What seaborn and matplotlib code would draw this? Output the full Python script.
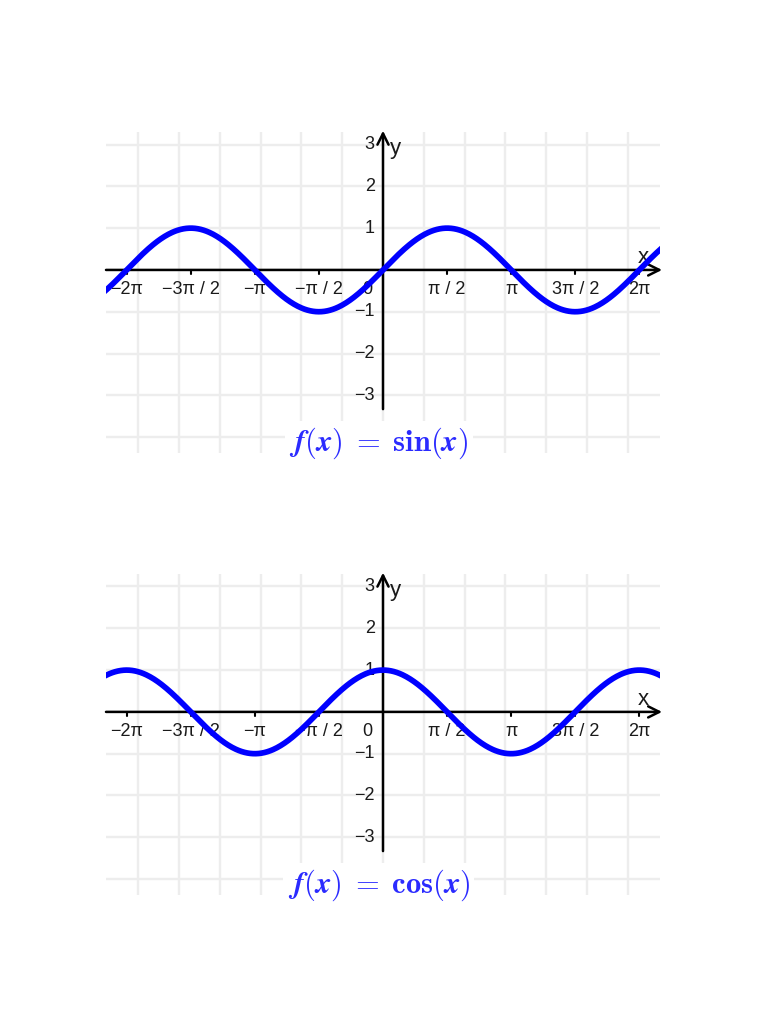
import matplotlib
matplotlib.use('Agg')

import matplotlib.pyplot as plt
import numpy as np
import pandas as pd
import seaborn as sns
from matplotlib.ticker import MultipleLocator, NullLocator

# ticks (multiples of pi/2) and their labels
x_tick_vals = [-2 * np.pi, -1.5 * np.pi, -np.pi, -0.5 * np.pi,
               0.5 * np.pi, np.pi, 1.5 * np.pi, 2 * np.pi]
x_tick_labels = ['\u22122\u03c0', '\u22123\u03c0 / 2', '\u2212\u03c0', '\u2212\u03c0 / 2',
                 '\u03c0 / 2', '\u03c0', '3\u03c0 / 2', '2\u03c0']
y_tick_vals = [-3, -2, -1, 1, 2, 3]
y_tick_labels = ['\u22123', '\u22122', '\u22121', '1', '2', '3']

# the two functions shown
panels = [
    ('sin', np.sin),
    ('cos', np.cos),
]

XMIN, XMAX = -6.79, 6.79
YMIN, YMAX = -4.38, 3.30
Y_AXIS_LOW = -3.33

sns.set_style('white')
plt.rcParams['font.family'] = ['Liberation Sans', 'DejaVu Sans']
plt.rcParams['mathtext.fontset'] = 'cm'

fig = plt.figure(figsize=(7.68, 10.24), dpi=100)
boxes = [[0.138, 0.5576, 0.7214, 0.3135], [0.138, 0.126, 0.7214, 0.3135]]

for (name, func), box in zip(panels, boxes):
    ax = fig.add_axes(box)
    xs = np.linspace(XMIN - 0.2, XMAX + 0.2, 600)
    df = pd.DataFrame({'x': xs, 'y': func(xs)})
    sns.lineplot(data=df, x='x', y='y', ax=ax, color='#0000ff', lw=4.1,
                 zorder=4, solid_capstyle='butt')

    ax.set_xlim(XMIN, XMAX)
    ax.set_ylim(YMIN, YMAX)
    ax.set_xlabel('')
    ax.set_ylabel('')

    # light grid at every integer
    ax.xaxis.set_major_locator(NullLocator())
    ax.yaxis.set_major_locator(NullLocator())
    ax.xaxis.set_minor_locator(MultipleLocator(1))
    ax.yaxis.set_minor_locator(MultipleLocator(1))
    ax.grid(which='minor', color='#ededed', lw=1.7, zorder=0)
    ax.tick_params(which='both', length=0)

    for s in ['top', 'right', 'left', 'bottom']:
        ax.spines[s].set_visible(False)

    # axes with arrows
    ax.annotate('', xy=(XMAX + 0.05, 0), xytext=(XMIN, 0),
                arrowprops=dict(arrowstyle='->', lw=1.8, color='black',
                                mutation_scale=20, shrinkA=0, shrinkB=0),
                zorder=3, annotation_clip=False)
    ax.annotate('', xy=(0, YMAX + 0.03), xytext=(0, Y_AXIS_LOW),
                arrowprops=dict(arrowstyle='->', lw=1.8, color='black',
                                mutation_scale=20, shrinkA=0, shrinkB=0),
                zorder=3, annotation_clip=False)

    # small tick marks under the x axis
    for xv in x_tick_vals:
        ax.plot([xv, xv], [0, -0.09], color='black', lw=1.5, zorder=3)

    for xv, lab in zip(x_tick_vals, x_tick_labels):
        ax.annotate(lab, (xv, 0), xytext=(0, -14), textcoords='offset points',
                    ha='center', va='center', fontsize=13, color='#1a1a1a', zorder=2)
    ax.annotate('0', (0, 0), xytext=(-11, -14), textcoords='offset points',
                ha='center', va='center', fontsize=13, color='#1a1a1a', zorder=2)
    for yv, lab in zip(y_tick_vals, y_tick_labels):
        ax.annotate(lab, (0, yv), xytext=(-6, 0), textcoords='offset points',
                    ha='right', va='center', fontsize=13, color='#1a1a1a', zorder=2)

    ax.annotate('x', (XMAX, 0), xytext=(-12, 9), textcoords='offset points',
                ha='center', va='center', fontsize=16, color='#1a1a1a')
    ax.annotate('y', (0, YMAX), xytext=(9, -12), textcoords='offset points',
                ha='center', va='center', fontsize=16, color='#1a1a1a')

    title = (r'$\boldsymbol{f}\mathbf{(}\boldsymbol{x}\mathbf{)}\;\mathbf{=}\;'
             r'\mathbf{' + name + r'(}\boldsymbol{x}\mathbf{)}$')
    ax.text(-0.1, -4.14, title, ha='center', va='center', fontsize=22,
            color='#2b2bff', zorder=5,
            bbox=dict(facecolor='white', edgecolor='none', pad=3))

fig.savefig('out.png', dpi=100)
